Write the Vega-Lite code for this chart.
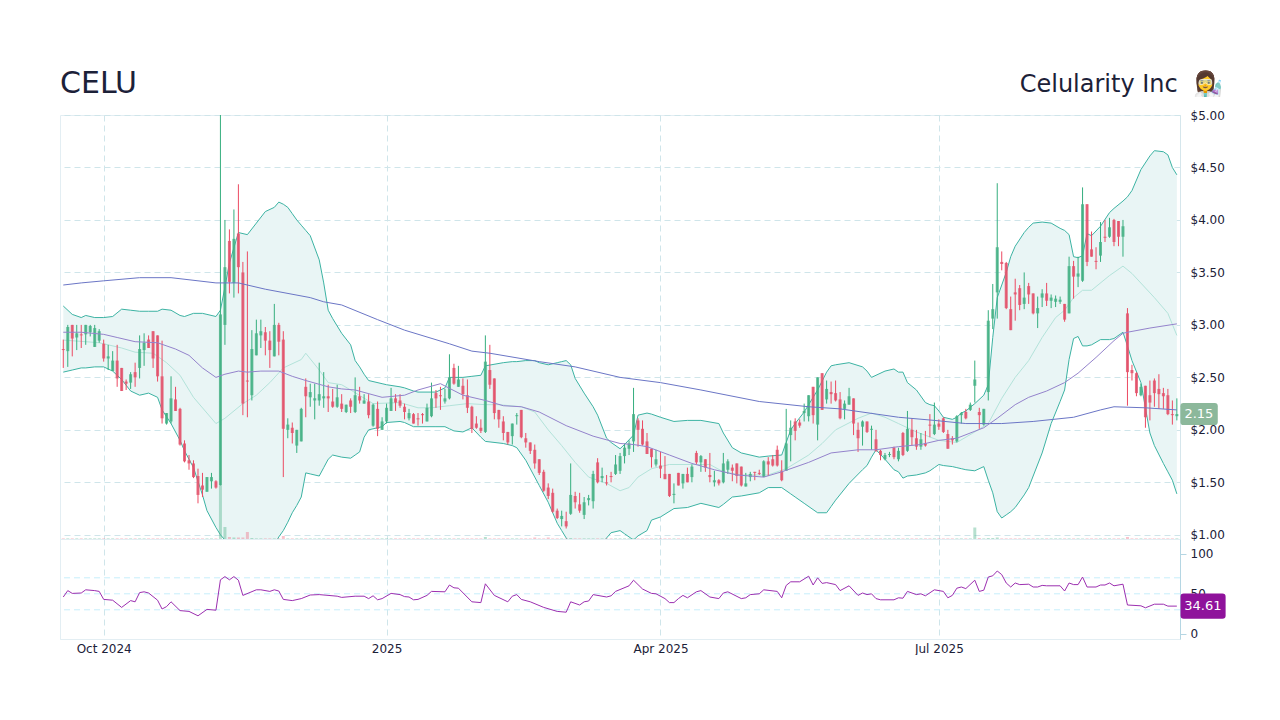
{"$schema":"https://vega.github.io/schema/vega-lite/v6.json","background":"#ffffff","padding":{"left":59,"top":68,"right":0,"bottom":0},"bounds":"flush","config":{"font":"DejaVu Sans","view":{"stroke":"#e3eef3"},"axis":{"labelColor":"#1c2138","labelFontSize":12}},"title":{"text":"CELU","anchor":"start","frame":"group","fontSize":30,"fontWeight":"normal","color":"#1c2138","font":"DejaVu Sans","offset":-26},"spacing":0,"datasets":{"candles":[
{"i":0,"o":2.77,"h":2.86,"l":2.59,"c":2.76,"v":0.6},{"i":1,"o":2.75,"h":3.0,"l":2.6,"c":2.98,"v":0.6},{"i":2,"o":3.0,"h":3.0,"l":2.7,"c":2.87,"v":0.6},{"i":3,"o":2.88,"h":3.0,"l":2.76,"c":2.92,"v":0.6},{"i":4,"o":2.91,"h":3.0,"l":2.78,"c":2.9,"v":0.6},{"i":5,"o":2.91,"h":3.0,"l":2.81,"c":3.0,"v":0.6},{"i":6,"o":2.93,"h":3.0,"l":2.89,"c":2.99,"v":0.6},{"i":7,"o":2.79,"h":3.0,"l":2.79,"c":2.97,"v":0.6},{"i":8,"o":2.85,"h":2.96,"l":2.83,"c":2.94,"v":0.6},{"i":9,"o":2.82,"h":2.86,"l":2.65,"c":2.68,"v":0.6},
{"i":10,"o":2.68,"h":2.81,"l":2.57,"c":2.7,"v":0.6},{"i":11,"o":2.56,"h":2.75,"l":2.56,"c":2.66,"v":0.6},{"i":12,"o":2.66,"h":2.81,"l":2.41,"c":2.49,"v":0.6},{"i":13,"o":2.59,"h":2.59,"l":2.37,"c":2.37,"v":0.6},{"i":14,"o":2.46,"h":2.48,"l":2.38,"c":2.44,"v":0.6},{"i":15,"o":2.45,"h":2.55,"l":2.39,"c":2.53,"v":0.6},{"i":16,"o":2.55,"h":2.64,"l":2.41,"c":2.5,"v":0.6},{"i":17,"o":2.59,"h":2.9,"l":2.49,"c":2.77,"v":0.6},{"i":18,"o":2.76,"h":2.92,"l":2.61,"c":2.83,"v":0.6},{"i":19,"o":2.86,"h":2.9,"l":2.78,"c":2.78,"v":0.6},
{"i":20,"o":2.94,"h":2.94,"l":2.59,"c":2.68,"v":0.6},{"i":21,"o":2.9,"h":2.9,"l":2.46,"c":2.51,"v":0.6},{"i":22,"o":2.51,"h":2.85,"l":2.06,"c":2.11,"v":0.6},{"i":23,"o":2.06,"h":2.16,"l":2.05,"c":2.16,"v":0.6},{"i":24,"o":2.08,"h":2.51,"l":2.06,"c":2.3,"v":0.6},{"i":25,"o":2.29,"h":2.41,"l":2.18,"c":2.18,"v":0.6},{"i":26,"o":2.2,"h":2.21,"l":1.85,"c":1.86,"v":0.6},{"i":27,"o":1.87,"h":1.9,"l":1.69,"c":1.7,"v":0.6},{"i":28,"o":1.71,"h":1.76,"l":1.62,"c":1.68,"v":0.6},{"i":29,"o":1.68,"h":1.71,"l":1.54,"c":1.55,"v":0.6},
{"i":30,"o":1.56,"h":1.63,"l":1.3,"c":1.38,"v":0.6},{"i":31,"o":1.47,"h":1.59,"l":1.36,"c":1.43,"v":0.6},{"i":32,"o":1.41,"h":1.55,"l":1.41,"c":1.55,"v":0.6},{"i":33,"o":1.51,"h":1.59,"l":1.44,"c":1.55,"v":0.6},{"i":34,"o":1.51,"h":1.52,"l":1.44,"c":1.45,"v":0.6},{"i":35,"o":1.47,"h":5.0,"l":1.47,"c":3.1,"v":53},{"i":36,"o":3.0,"h":4.0,"l":2.81,"c":3.55,"v":12},{"i":37,"o":3.8,"h":3.91,"l":3.3,"c":3.41,"v":2},{"i":38,"o":3.4,"h":4.1,"l":3.26,"c":3.82,"v":1.5},{"i":39,"o":3.87,"h":4.34,"l":3.3,"c":3.55,"v":1.5},
{"i":40,"o":3.5,"h":3.6,"l":2.14,"c":2.25,"v":1.5},{"i":41,"o":2.47,"h":3.7,"l":2.12,"c":2.46,"v":7},{"i":42,"o":2.33,"h":2.95,"l":2.28,"c":2.77,"v":1},{"i":43,"o":2.71,"h":3.05,"l":2.71,"c":2.92,"v":0.6},{"i":44,"o":2.9,"h":3.05,"l":2.78,"c":2.94,"v":0.6},{"i":45,"o":2.93,"h":2.98,"l":2.71,"c":2.85,"v":0.6},{"i":46,"o":2.85,"h":2.94,"l":2.59,"c":2.76,"v":0.6},{"i":47,"o":2.7,"h":3.2,"l":2.7,"c":3.0,"v":0.6},{"i":48,"o":3.0,"h":3.02,"l":2.71,"c":2.84,"v":0.6},{"i":49,"o":2.86,"h":2.94,"l":1.55,"c":2.01,"v":3},
{"i":50,"o":2.0,"h":2.11,"l":1.92,"c":2.05,"v":0.6},{"i":51,"o":2.02,"h":2.07,"l":1.87,"c":1.97,"v":0.6},{"i":52,"o":1.85,"h":2.0,"l":1.78,"c":2.0,"v":0.6},{"i":53,"o":1.89,"h":2.21,"l":1.89,"c":2.2,"v":0.6},{"i":54,"o":2.41,"h":2.49,"l":2.12,"c":2.32,"v":0.6},{"i":55,"o":2.31,"h":2.44,"l":2.22,"c":2.36,"v":0.6},{"i":56,"o":2.28,"h":2.44,"l":2.1,"c":2.3,"v":0.6},{"i":57,"o":2.28,"h":2.64,"l":2.23,"c":2.34,"v":0.6},{"i":58,"o":2.3,"h":2.55,"l":2.21,"c":2.32,"v":0.6},{"i":59,"o":2.32,"h":2.43,"l":2.17,"c":2.3,"v":0.6},
{"i":60,"o":2.27,"h":2.39,"l":2.21,"c":2.22,"v":0.6},{"i":61,"o":2.22,"h":2.43,"l":2.21,"c":2.31,"v":0.6},{"i":62,"o":2.25,"h":2.34,"l":2.17,"c":2.2,"v":0.6},{"i":63,"o":2.17,"h":2.24,"l":2.16,"c":2.24,"v":0.6},{"i":64,"o":2.28,"h":2.3,"l":2.16,"c":2.22,"v":0.6},{"i":65,"o":2.17,"h":2.5,"l":2.16,"c":2.33,"v":0.6},{"i":66,"o":2.32,"h":2.41,"l":2.25,"c":2.28,"v":0.6},{"i":67,"o":2.25,"h":2.34,"l":2.25,"c":2.28,"v":0.6},{"i":68,"o":2.27,"h":2.34,"l":2.11,"c":2.14,"v":0.6},{"i":69,"o":2.04,"h":2.25,"l":2.03,"c":2.24,"v":0.6},
{"i":70,"o":2.2,"h":2.27,"l":1.94,"c":2.01,"v":0.6},{"i":71,"o":2.0,"h":2.12,"l":2.0,"c":2.08,"v":0.6},{"i":72,"o":2.08,"h":2.25,"l":2.06,"c":2.21,"v":0.6},{"i":73,"o":2.18,"h":2.4,"l":2.18,"c":2.3,"v":0.6},{"i":74,"o":2.3,"h":2.34,"l":2.18,"c":2.26,"v":0.6},{"i":75,"o":2.28,"h":2.34,"l":2.21,"c":2.23,"v":0.6},{"i":76,"o":2.22,"h":2.25,"l":2.1,"c":2.17,"v":0.6},{"i":77,"o":2.11,"h":2.2,"l":2.09,"c":2.16,"v":0.6},{"i":78,"o":2.15,"h":2.16,"l":2.06,"c":2.06,"v":0.6},{"i":79,"o":2.11,"h":2.16,"l":2.04,"c":2.1,"v":0.6},
{"i":80,"o":2.15,"h":2.16,"l":2.06,"c":2.14,"v":0.6},{"i":81,"o":2.08,"h":2.25,"l":2.08,"c":2.21,"v":0.6},{"i":82,"o":2.13,"h":2.45,"l":2.12,"c":2.3,"v":0.6},{"i":83,"o":2.35,"h":2.38,"l":2.21,"c":2.3,"v":0.6},{"i":84,"o":2.33,"h":2.41,"l":2.19,"c":2.32,"v":0.6},{"i":85,"o":2.27,"h":2.39,"l":2.25,"c":2.3,"v":0.6},{"i":86,"o":2.3,"h":2.72,"l":2.29,"c":2.5,"v":0.6},{"i":87,"o":2.59,"h":2.63,"l":2.43,"c":2.44,"v":0.6},{"i":88,"o":2.41,"h":2.61,"l":2.41,"c":2.48,"v":0.6},{"i":89,"o":2.42,"h":2.49,"l":2.29,"c":2.34,"v":0.6},
{"i":90,"o":2.33,"h":2.48,"l":2.16,"c":2.21,"v":0.6},{"i":91,"o":2.22,"h":2.23,"l":1.97,"c":2.01,"v":0.6},{"i":92,"o":2.06,"h":2.13,"l":2.01,"c":2.02,"v":0.6},{"i":93,"o":2.02,"h":2.1,"l":1.97,"c":1.99,"v":0.6},{"i":94,"o":1.98,"h":2.9,"l":1.97,"c":2.65,"v":2},{"i":95,"o":2.57,"h":2.81,"l":2.39,"c":2.43,"v":0.6},{"i":96,"o":2.49,"h":2.49,"l":2.1,"c":2.16,"v":0.6},{"i":97,"o":2.19,"h":2.19,"l":2.02,"c":2.1,"v":0.6},{"i":98,"o":2.08,"h":2.13,"l":1.9,"c":1.97,"v":0.6},{"i":99,"o":1.98,"h":1.98,"l":1.86,"c":1.88,"v":0.6},
{"i":100,"o":1.94,"h":2.06,"l":1.86,"c":2.06,"v":0.6},{"i":101,"o":2.13,"h":2.16,"l":2.05,"c":2.14,"v":0.6},{"i":102,"o":2.19,"h":2.19,"l":1.92,"c":1.93,"v":0.6},{"i":103,"o":1.92,"h":1.97,"l":1.83,"c":1.88,"v":0.6},{"i":104,"o":1.88,"h":1.88,"l":1.77,"c":1.8,"v":0.6},{"i":105,"o":1.81,"h":1.86,"l":1.63,"c":1.68,"v":1.5},{"i":106,"o":1.72,"h":1.72,"l":1.57,"c":1.59,"v":0.6},{"i":107,"o":1.6,"h":1.62,"l":1.41,"c":1.42,"v":0.6},{"i":108,"o":1.45,"h":1.49,"l":1.34,"c":1.37,"v":1.5},{"i":109,"o":1.4,"h":1.44,"l":1.21,"c":1.22,"v":0.6},
{"i":110,"o":1.23,"h":1.25,"l":1.15,"c":1.16,"v":0.6},{"i":111,"o":1.15,"h":1.23,"l":1.08,"c":1.18,"v":0.6},{"i":112,"o":1.13,"h":1.22,"l":1.06,"c":1.08,"v":0.6},{"i":113,"o":1.2,"h":1.68,"l":1.19,"c":1.38,"v":1},{"i":114,"o":1.37,"h":1.41,"l":1.25,"c":1.31,"v":0.6},{"i":115,"o":1.29,"h":1.4,"l":1.21,"c":1.23,"v":0.6},{"i":116,"o":1.19,"h":1.36,"l":1.15,"c":1.31,"v":0.6},{"i":117,"o":1.33,"h":1.38,"l":1.28,"c":1.35,"v":0.6},{"i":118,"o":1.32,"h":1.61,"l":1.25,"c":1.58,"v":0.6},{"i":119,"o":1.69,"h":1.73,"l":1.49,"c":1.5,"v":0.6},
{"i":120,"o":1.54,"h":1.64,"l":1.5,"c":1.56,"v":0.6},{"i":121,"o":1.5,"h":1.57,"l":1.47,"c":1.49,"v":0.6},{"i":122,"o":1.56,"h":1.6,"l":1.5,"c":1.55,"v":0.6},{"i":123,"o":1.58,"h":1.76,"l":1.57,"c":1.67,"v":0.6},{"i":124,"o":1.61,"h":1.78,"l":1.58,"c":1.75,"v":0.6},{"i":125,"o":1.75,"h":1.87,"l":1.68,"c":1.83,"v":0.6},{"i":126,"o":1.82,"h":1.9,"l":1.76,"c":1.87,"v":0.6},{"i":127,"o":1.89,"h":2.4,"l":1.79,"c":2.15,"v":0.6},{"i":128,"o":2.09,"h":2.11,"l":1.84,"c":2.0,"v":0.6},{"i":129,"o":2.01,"h":2.09,"l":1.85,"c":1.86,"v":0.6},
{"i":130,"o":1.89,"h":1.97,"l":1.77,"c":1.77,"v":0.6},{"i":131,"o":1.82,"h":1.82,"l":1.64,"c":1.74,"v":0.6},{"i":132,"o":1.67,"h":1.81,"l":1.65,"c":1.72,"v":0.6},{"i":133,"o":1.66,"h":1.79,"l":1.54,"c":1.63,"v":0.6},{"i":134,"o":1.58,"h":1.75,"l":1.53,"c":1.53,"v":0.6},{"i":135,"o":1.58,"h":1.58,"l":1.36,"c":1.37,"v":0.6},{"i":136,"o":1.38,"h":1.49,"l":1.3,"c":1.39,"v":0.6},{"i":137,"o":1.59,"h":1.59,"l":1.47,"c":1.47,"v":0.6},{"i":138,"o":1.49,"h":1.58,"l":1.44,"c":1.58,"v":0.6},{"i":139,"o":1.58,"h":1.64,"l":1.5,"c":1.5,"v":0.6},
{"i":140,"o":1.55,"h":1.67,"l":1.5,"c":1.65,"v":0.6},{"i":141,"o":1.78,"h":1.8,"l":1.67,"c":1.69,"v":0.6},{"i":142,"o":1.69,"h":1.76,"l":1.6,"c":1.75,"v":0.6},{"i":143,"o":1.72,"h":1.72,"l":1.6,"c":1.64,"v":0.6},{"i":144,"o":1.57,"h":1.78,"l":1.5,"c":1.55,"v":0.6},{"i":145,"o":1.5,"h":1.61,"l":1.46,"c":1.52,"v":0.6},{"i":146,"o":1.52,"h":1.53,"l":1.47,"c":1.49,"v":0.6},{"i":147,"o":1.5,"h":1.78,"l":1.49,"c":1.68,"v":0.6},{"i":148,"o":1.62,"h":1.72,"l":1.58,"c":1.7,"v":0.6},{"i":149,"o":1.64,"h":1.67,"l":1.51,"c":1.61,"v":0.6},
{"i":150,"o":1.68,"h":1.68,"l":1.49,"c":1.56,"v":0.6},{"i":151,"o":1.65,"h":1.65,"l":1.46,"c":1.47,"v":0.6},{"i":152,"o":1.46,"h":1.59,"l":1.46,"c":1.49,"v":0.6},{"i":153,"o":1.55,"h":1.6,"l":1.51,"c":1.58,"v":0.6},{"i":154,"o":1.6,"h":1.6,"l":1.52,"c":1.59,"v":0.6},{"i":155,"o":1.59,"h":1.62,"l":1.57,"c":1.58,"v":0.6},{"i":156,"o":1.55,"h":1.71,"l":1.55,"c":1.7,"v":0.6},{"i":157,"o":1.7,"h":1.74,"l":1.56,"c":1.67,"v":0.6},{"i":158,"o":1.72,"h":1.76,"l":1.65,"c":1.66,"v":0.6},{"i":159,"o":1.81,"h":1.85,"l":1.65,"c":1.66,"v":0.6},
{"i":160,"o":1.61,"h":1.71,"l":1.51,"c":1.52,"v":0.6},{"i":161,"o":1.61,"h":2.2,"l":1.61,"c":1.87,"v":0.6},{"i":162,"o":1.95,"h":2.09,"l":1.7,"c":2.02,"v":0.6},{"i":163,"o":2.08,"h":2.11,"l":1.9,"c":1.99,"v":0.6},{"i":164,"o":2.07,"h":2.1,"l":2.02,"c":2.04,"v":0.6},{"i":165,"o":2.16,"h":2.25,"l":2.08,"c":2.18,"v":0.6},{"i":166,"o":2.13,"h":2.33,"l":2.08,"c":2.33,"v":0.6},{"i":167,"o":2.41,"h":2.41,"l":2.06,"c":2.14,"v":0.6},{"i":168,"o":2.05,"h":2.5,"l":1.9,"c":2.5,"v":0.6},{"i":169,"o":2.54,"h":2.54,"l":2.19,"c":2.19,"v":0.6},
{"i":170,"o":2.29,"h":2.47,"l":2.25,"c":2.39,"v":0.6},{"i":171,"o":2.36,"h":2.46,"l":2.25,"c":2.34,"v":0.6},{"i":172,"o":2.35,"h":2.47,"l":2.27,"c":2.28,"v":0.6},{"i":173,"o":2.29,"h":2.36,"l":2.1,"c":2.11,"v":0.6},{"i":174,"o":2.2,"h":2.28,"l":2.1,"c":2.25,"v":0.6},{"i":175,"o":2.24,"h":2.4,"l":2.24,"c":2.32,"v":0.6},{"i":176,"o":2.3,"h":2.3,"l":1.95,"c":2.06,"v":0.6},{"i":177,"o":2.0,"h":2.07,"l":1.79,"c":1.92,"v":0.6},{"i":178,"o":2.03,"h":2.09,"l":1.85,"c":2.08,"v":0.6},{"i":179,"o":2.08,"h":2.08,"l":1.97,"c":1.98,"v":0.6},
{"i":180,"o":2.0,"h":2.04,"l":1.81,"c":2.01,"v":0.6},{"i":181,"o":1.91,"h":2.0,"l":1.79,"c":1.8,"v":0.6},{"i":182,"o":1.8,"h":1.81,"l":1.71,"c":1.76,"v":0.6},{"i":183,"o":1.72,"h":1.78,"l":1.71,"c":1.76,"v":0.6},{"i":184,"o":1.76,"h":1.79,"l":1.74,"c":1.77,"v":0.6},{"i":185,"o":1.83,"h":1.84,"l":1.72,"c":1.74,"v":0.6},{"i":186,"o":1.72,"h":1.83,"l":1.7,"c":1.8,"v":0.6},{"i":187,"o":1.97,"h":1.98,"l":1.75,"c":1.76,"v":0.6},{"i":188,"o":1.8,"h":2.18,"l":1.79,"c":2.01,"v":0.6},{"i":189,"o":2.0,"h":2.11,"l":1.85,"c":1.93,"v":0.6},
{"i":190,"o":1.92,"h":2.0,"l":1.81,"c":1.84,"v":0.6},{"i":191,"o":1.84,"h":1.97,"l":1.81,"c":1.91,"v":0.6},{"i":192,"o":1.87,"h":1.99,"l":1.84,"c":1.85,"v":0.6},{"i":193,"o":2.05,"h":2.15,"l":1.93,"c":2.04,"v":0.6},{"i":194,"o":1.96,"h":2.26,"l":1.95,"c":2.05,"v":0.6},{"i":195,"o":2.06,"h":2.1,"l":2.0,"c":2.03,"v":0.6},{"i":196,"o":2.11,"h":2.12,"l":1.97,"c":1.98,"v":0.6},{"i":197,"o":1.96,"h":2.0,"l":1.82,"c":1.82,"v":0.6},{"i":198,"o":1.92,"h":1.94,"l":1.86,"c":1.9,"v":0.6},{"i":199,"o":1.89,"h":2.14,"l":1.88,"c":2.13,"v":0.6},
{"i":200,"o":2.14,"h":2.17,"l":2.06,"c":2.16,"v":0.6},{"i":201,"o":2.17,"h":2.2,"l":2.1,"c":2.11,"v":0.6},{"i":202,"o":2.19,"h":2.26,"l":2.18,"c":2.24,"v":0.6},{"i":203,"o":2.42,"h":2.66,"l":2.26,"c":2.48,"v":11.5},{"i":204,"o":2.17,"h":2.21,"l":2.01,"c":2.14,"v":1},{"i":205,"o":2.05,"h":2.2,"l":2.04,"c":2.2,"v":0.6},{"i":206,"o":2.36,"h":3.14,"l":2.28,"c":3.04,"v":1},{"i":207,"o":3.06,"h":3.39,"l":2.96,"c":3.15,"v":1},{"i":208,"o":3.31,"h":4.35,"l":3.06,"c":3.74,"v":1.5},{"i":209,"o":3.6,"h":3.7,"l":3.52,"c":3.58,"v":0.6},
{"i":210,"o":3.59,"h":3.6,"l":3.15,"c":3.16,"v":0.6},{"i":211,"o":3.15,"h":3.27,"l":2.95,"c":2.95,"v":0.6},{"i":212,"o":3.31,"h":3.44,"l":3.04,"c":3.29,"v":0.6},{"i":213,"o":3.35,"h":3.38,"l":3.14,"c":3.19,"v":0.6},{"i":214,"o":3.2,"h":3.5,"l":3.15,"c":3.26,"v":0.6},{"i":215,"o":3.37,"h":3.4,"l":3.2,"c":3.29,"v":0.6},{"i":216,"o":3.3,"h":3.3,"l":3.1,"c":3.11,"v":0.6},{"i":217,"o":3.11,"h":3.27,"l":2.97,"c":3.16,"v":0.6},{"i":218,"o":3.26,"h":3.34,"l":3.17,"c":3.3,"v":0.6},{"i":219,"o":3.3,"h":3.4,"l":3.18,"c":3.23,"v":0.6},
{"i":220,"o":3.23,"h":3.29,"l":3.16,"c":3.26,"v":0.6},{"i":221,"o":3.22,"h":3.28,"l":3.17,"c":3.25,"v":0.6},{"i":222,"o":3.22,"h":3.27,"l":3.2,"c":3.24,"v":0.6},{"i":223,"o":3.2,"h":3.2,"l":3.03,"c":3.05,"v":0.6},{"i":224,"o":3.11,"h":3.65,"l":3.11,"c":3.56,"v":0.6},{"i":225,"o":3.56,"h":3.61,"l":3.25,"c":3.46,"v":0.6},{"i":226,"o":3.46,"h":3.65,"l":3.36,"c":3.49,"v":0.6},{"i":227,"o":3.42,"h":4.31,"l":3.41,"c":4.15,"v":0.6},{"i":228,"o":4.15,"h":4.15,"l":3.56,"c":3.6,"v":0.6},{"i":229,"o":3.72,"h":3.89,"l":3.65,"c":3.65,"v":0.6},
{"i":230,"o":3.61,"h":3.74,"l":3.53,"c":3.6,"v":0.6},{"i":231,"o":3.66,"h":3.98,"l":3.6,"c":3.79,"v":0.6},{"i":232,"o":3.84,"h":4.0,"l":3.79,"c":3.83,"v":0.6},{"i":233,"o":3.84,"h":4.02,"l":3.83,"c":3.93,"v":0.6},{"i":234,"o":4.0,"h":4.01,"l":3.75,"c":3.79,"v":0.6},{"i":235,"o":3.99,"h":3.99,"l":3.75,"c":3.84,"v":0.6},{"i":236,"o":3.84,"h":4.0,"l":3.65,"c":3.94,"v":0.6},{"i":237,"o":3.11,"h":3.16,"l":2.23,"c":2.55,"v":2},{"i":238,"o":2.57,"h":2.62,"l":2.47,"c":2.54,"v":0.6},{"i":239,"o":2.54,"h":2.55,"l":2.32,"c":2.35,"v":0.6},
{"i":240,"o":2.33,"h":2.44,"l":2.32,"c":2.41,"v":0.6},{"i":241,"o":2.42,"h":2.42,"l":2.02,"c":2.12,"v":0.6},{"i":242,"o":2.33,"h":2.47,"l":2.09,"c":2.26,"v":0.6},{"i":243,"o":2.47,"h":2.49,"l":2.22,"c":2.35,"v":0.6},{"i":244,"o":2.39,"h":2.53,"l":2.2,"c":2.34,"v":0.6},{"i":245,"o":2.35,"h":2.4,"l":2.2,"c":2.32,"v":0.6},{"i":246,"o":2.33,"h":2.39,"l":2.14,"c":2.15,"v":0.6},{"i":247,"o":2.15,"h":2.28,"l":2.05,"c":2.14,"v":0.6},{"i":248,"o":2.13,"h":2.3,"l":2.09,"c":2.15,"v":0.6}
],"bands":[
{"i":0,"u":3.18,"l":2.55},{"i":2,"u":3.1,"l":2.57},{"i":4,"u":3.07,"l":2.59},{"i":5,"u":3.09,"l":2.59},{"i":7,"u":3.07,"l":2.6},{"i":9,"u":3.07,"l":2.6},{"i":11,"u":3.08,"l":2.56},{"i":13,"u":3.15,"l":2.48},{"i":15,"u":3.14,"l":2.37},{"i":17,"u":3.13,"l":2.33},{"i":19,"u":3.13,"l":2.35},{"i":21,"u":3.13,"l":2.31},{"i":22,"u":3.15,"l":2.19},{"i":24,"u":3.14,"l":2.06},{"i":26,"u":3.09,"l":1.9},{"i":27,"u":3.08,"l":1.8},{"i":29,"u":3.11,"l":1.64},{"i":31,"u":3.11,"l":1.38},{"i":32,"u":3.1,"l":1.23},{"i":34,"u":3.08,"l":1.07},{"i":35,"u":3.14,"l":1.0},{"i":36,"u":3.36,"l":0.95},{"i":37,"u":3.59,"l":0.92},{"i":39,"u":3.88,"l":0.84},{"i":41,"u":3.86,"l":0.8},{"i":43,"u":3.97,"l":0.8},{"i":45,"u":4.08,"l":0.82},{"i":47,"u":4.12,"l":0.9},{"i":48,"u":4.17,"l":0.98},{"i":49,"u":4.15,"l":1.04},{"i":50,"u":4.12,"l":1.12},{"i":51,"u":4.06,"l":1.21},{"i":52,"u":4.0,"l":1.28},{"i":53,"u":3.95,"l":1.36},{"i":54,"u":3.9,"l":1.59},{"i":55,"u":3.85,"l":1.58},{"i":57,"u":3.62,"l":1.56},{"i":58,"u":3.4,"l":1.64},{"i":59,"u":3.14,"l":1.72},{"i":60,"u":3.06,"l":1.76},{"i":62,"u":2.92,"l":1.74},{"i":64,"u":2.81,"l":1.73},{"i":65,"u":2.66,"l":1.76},{"i":66,"u":2.6,"l":1.79},{"i":67,"u":2.53,"l":1.93},{"i":68,"u":2.47,"l":2.0},{"i":71,"u":2.44,"l":2.03},{"i":72,"u":2.43,"l":2.07},{"i":75,"u":2.41,"l":2.08},{"i":76,"u":2.4,"l":2.07},{"i":78,"u":2.37,"l":2.03},{"i":79,"u":2.36,"l":2.03},{"i":83,"u":2.36,"l":2.03},{"i":85,"u":2.4,"l":2.03},{"i":86,"u":2.5,"l":2.01},{"i":87,"u":2.5,"l":1.99},{"i":89,"u":2.5,"l":1.98},{"i":91,"u":2.51,"l":2.02},{"i":93,"u":2.52,"l":1.93},{"i":94,"u":2.61,"l":1.89},{"i":98,"u":2.64,"l":1.87},{"i":100,"u":2.65,"l":1.85},{"i":101,"u":2.65,"l":1.83},{"i":103,"u":2.66,"l":1.71},{"i":105,"u":2.66,"l":1.55},{"i":106,"u":2.64,"l":1.47},{"i":108,"u":2.62,"l":1.31},{"i":110,"u":2.64,"l":1.11},{"i":111,"u":2.65,"l":1.04},{"i":112,"u":2.66,"l":0.97},{"i":113,"u":2.62,"l":0.92},{"i":114,"u":2.49,"l":0.88},{"i":116,"u":2.35,"l":0.82},{"i":118,"u":2.22,"l":0.82},{"i":119,"u":2.14,"l":0.85},{"i":121,"u":1.92,"l":0.97},{"i":122,"u":1.88,"l":1.02},{"i":124,"u":1.82,"l":1.04},{"i":125,"u":1.86,"l":1.01},{"i":127,"u":1.95,"l":0.95},{"i":128,"u":2.14,"l":0.99},{"i":130,"u":2.16,"l":1.04},{"i":131,"u":2.15,"l":1.14},{"i":133,"u":2.12,"l":1.17},{"i":136,"u":2.08,"l":1.25},{"i":139,"u":2.09,"l":1.26},{"i":142,"u":2.09,"l":1.3},{"i":146,"u":2.06,"l":1.26},{"i":147,"u":1.97,"l":1.29},{"i":149,"u":1.83,"l":1.36},{"i":151,"u":1.78,"l":1.37},{"i":155,"u":1.74,"l":1.4},{"i":157,"u":1.75,"l":1.45},{"i":160,"u":1.76,"l":1.45},{"i":162,"u":2.0,"l":1.39},{"i":163,"u":2.06,"l":1.36},{"i":165,"u":2.17,"l":1.3},{"i":168,"u":2.38,"l":1.21},{"i":170,"u":2.55,"l":1.21},{"i":171,"u":2.61,"l":1.27},{"i":172,"u":2.62,"l":1.33},{"i":175,"u":2.64,"l":1.49},{"i":178,"u":2.6,"l":1.62},{"i":179,"u":2.56,"l":1.66},{"i":180,"u":2.5,"l":1.74},{"i":181,"u":2.52,"l":1.81},{"i":183,"u":2.56,"l":1.72},{"i":185,"u":2.58,"l":1.62},{"i":186,"u":2.55,"l":1.6},{"i":187,"u":2.55,"l":1.54},{"i":188,"u":2.45,"l":1.56},{"i":190,"u":2.38,"l":1.57},{"i":192,"u":2.26,"l":1.59},{"i":193,"u":2.24,"l":1.61},{"i":194,"u":2.23,"l":1.64},{"i":195,"u":2.18,"l":1.67},{"i":196,"u":2.12,"l":1.66},{"i":198,"u":2.1,"l":1.65},{"i":199,"u":2.12,"l":1.64},{"i":200,"u":2.16,"l":1.63},{"i":201,"u":2.18,"l":1.62},{"i":203,"u":2.25,"l":1.61},{"i":205,"u":2.33,"l":1.65},{"i":206,"u":2.43,"l":1.52},{"i":207,"u":2.88,"l":1.4},{"i":208,"u":3.26,"l":1.22},{"i":209,"u":3.38,"l":1.16},{"i":210,"u":3.5,"l":1.19},{"i":211,"u":3.65,"l":1.22},{"i":212,"u":3.75,"l":1.26},{"i":214,"u":3.88,"l":1.38},{"i":215,"u":3.93,"l":1.45},{"i":216,"u":3.97,"l":1.56},{"i":218,"u":3.98,"l":1.78},{"i":220,"u":3.97,"l":2.06},{"i":222,"u":3.92,"l":2.27},{"i":223,"u":3.9,"l":2.38},{"i":224,"u":3.86,"l":2.67},{"i":225,"u":3.65,"l":2.87},{"i":226,"u":3.64,"l":2.89},{"i":227,"u":3.66,"l":2.8},{"i":228,"u":3.87,"l":2.8},{"i":229,"u":3.85,"l":2.81},{"i":231,"u":3.94,"l":2.86},{"i":233,"u":4.07,"l":2.86},{"i":234,"u":4.11,"l":2.87},{"i":236,"u":4.18,"l":2.93},{"i":237,"u":4.22,"l":2.8},{"i":238,"u":4.28,"l":2.66},{"i":240,"u":4.48,"l":2.45},{"i":242,"u":4.61,"l":1.97},{"i":243,"u":4.66,"l":1.85},{"i":245,"u":4.65,"l":1.68},{"i":246,"u":4.62,"l":1.6},{"i":247,"u":4.5,"l":1.52},{"i":248,"u":4.43,"l":1.39}
],"mid":[
{"i":0,"p":2.855},{"i":5,"p":2.84},{"i":8,"p":2.83},{"i":13,"p":2.78},{"i":16,"p":2.74},{"i":20,"p":2.73},{"i":23,"p":2.64},{"i":26,"p":2.52},{"i":29,"p":2.31},{"i":34,"p":2.06},{"i":36,"p":2.11},{"i":40,"p":2.25},{"i":43,"p":2.33},{"i":46,"p":2.45},{"i":49,"p":2.59},{"i":53,"p":2.67},{"i":54,"p":2.73},{"i":57,"p":2.57},{"i":59,"p":2.45},{"i":62,"p":2.43},{"i":64,"p":2.38},{"i":69,"p":2.25},{"i":75,"p":2.26},{"i":79,"p":2.21},{"i":82,"p":2.21},{"i":86,"p":2.23},{"i":90,"p":2.25},{"i":94,"p":2.24},{"i":97,"p":2.24},{"i":102,"p":2.22},{"i":105,"p":2.17},{"i":108,"p":2.0},{"i":111,"p":1.85},{"i":114,"p":1.69},{"i":117,"p":1.55},{"i":121,"p":1.49},{"i":124,"p":1.42},{"i":126,"p":1.45},{"i":128,"p":1.55},{"i":131,"p":1.63},{"i":135,"p":1.67},{"i":141,"p":1.67},{"i":144,"p":1.67},{"i":147,"p":1.6},{"i":151,"p":1.57},{"i":157,"p":1.57},{"i":161,"p":1.63},{"i":166,"p":1.76},{"i":169,"p":1.87},{"i":172,"p":2.0},{"i":177,"p":2.11},{"i":180,"p":2.16},{"i":183,"p":2.12},{"i":186,"p":2.06},{"i":190,"p":1.98},{"i":195,"p":1.9},{"i":199,"p":1.88},{"i":203,"p":1.98},{"i":206,"p":2.06},{"i":209,"p":2.3},{"i":212,"p":2.5},{"i":215,"p":2.66},{"i":218,"p":2.88},{"i":221,"p":3.07},{"i":223,"p":3.14},{"i":225,"p":3.26},{"i":227,"p":3.33},{"i":229,"p":3.33},{"i":233,"p":3.47},{"i":236,"p":3.56},{"i":238,"p":3.49},{"i":243,"p":3.26},{"i":246,"p":3.11},{"i":248,"p":2.9}
],"smaShort":[
{"i":0,"p":2.93},{"i":4,"p":2.93},{"i":9,"p":2.91},{"i":12,"p":2.88},{"i":16,"p":2.84},{"i":21,"p":2.83},{"i":25,"p":2.77},{"i":28,"p":2.71},{"i":31,"p":2.59},{"i":34,"p":2.5},{"i":36,"p":2.53},{"i":39,"p":2.56},{"i":41,"p":2.55},{"i":44,"p":2.56},{"i":48,"p":2.56},{"i":51,"p":2.51},{"i":54,"p":2.47},{"i":59,"p":2.41},{"i":62,"p":2.39},{"i":65,"p":2.38},{"i":71,"p":2.31},{"i":76,"p":2.33},{"i":79,"p":2.38},{"i":84,"p":2.44},{"i":89,"p":2.33},{"i":94,"p":2.28},{"i":98,"p":2.23},{"i":102,"p":2.22},{"i":106,"p":2.17},{"i":112,"p":2.04},{"i":118,"p":1.94},{"i":124,"p":1.87},{"i":127,"p":1.86},{"i":130,"p":1.84},{"i":135,"p":1.76},{"i":140,"p":1.68},{"i":145,"p":1.62},{"i":150,"p":1.57},{"i":156,"p":1.55},{"i":160,"p":1.6},{"i":166,"p":1.69},{"i":171,"p":1.78},{"i":177,"p":1.81},{"i":181,"p":1.81},{"i":186,"p":1.84},{"i":191,"p":1.86},{"i":195,"p":1.9},{"i":199,"p":1.92},{"i":205,"p":2.02},{"i":208,"p":2.11},{"i":212,"p":2.24},{"i":215,"p":2.31},{"i":219,"p":2.37},{"i":223,"p":2.45},{"i":226,"p":2.54},{"i":230,"p":2.69},{"i":234,"p":2.85},{"i":236,"p":2.92},{"i":237,"p":2.93},{"i":242,"p":2.97},{"i":248,"p":3.01}
],"smaLong":[
{"i":0,"p":3.38},{"i":4,"p":3.4},{"i":9,"p":3.42},{"i":17,"p":3.45},{"i":24,"p":3.45},{"i":30,"p":3.42},{"i":34,"p":3.4},{"i":39,"p":3.4},{"i":45,"p":3.34},{"i":55,"p":3.26},{"i":58,"p":3.22},{"i":62,"p":3.19},{"i":70,"p":3.05},{"i":76,"p":2.95},{"i":86,"p":2.82},{"i":91,"p":2.75},{"i":95,"p":2.73},{"i":106,"p":2.65},{"i":114,"p":2.6},{"i":124,"p":2.5},{"i":133,"p":2.45},{"i":142,"p":2.38},{"i":155,"p":2.27},{"i":166,"p":2.22},{"i":173,"p":2.2},{"i":186,"p":2.12},{"i":194,"p":2.09},{"i":201,"p":2.06},{"i":209,"p":2.06},{"i":216,"p":2.08},{"i":225,"p":2.12},{"i":231,"p":2.19},{"i":234,"p":2.22},{"i":241,"p":2.21},{"i":248,"p":2.19}
],"rsi":[
{"i":0,"r":46},{"i":1,"r":54},{"i":2,"r":50.5},{"i":4,"r":51},{"i":5,"r":55},{"i":7,"r":54},{"i":8,"r":53},{"i":9,"r":43},{"i":11,"r":42},{"i":13,"r":33},{"i":15,"r":41.5},{"i":16,"r":40},{"i":17,"r":51.5},{"i":18,"r":52.5},{"i":19,"r":51},{"i":21,"r":42},{"i":22,"r":31},{"i":23,"r":34},{"i":24,"r":40},{"i":26,"r":29},{"i":28,"r":28},{"i":30,"r":22.5},{"i":32,"r":30.5},{"i":34,"r":29.5},{"i":35,"r":67.5},{"i":36,"r":71.5},{"i":37,"r":67.5},{"i":38,"r":71.5},{"i":39,"r":67},{"i":40,"r":48},{"i":43,"r":55},{"i":44,"r":55},{"i":46,"r":53},{"i":47,"r":55},{"i":48,"r":53.5},{"i":49,"r":43},{"i":51,"r":41.5},{"i":53,"r":44},{"i":55,"r":48.5},{"i":57,"r":49},{"i":61,"r":47},{"i":62,"r":45.5},{"i":65,"r":47},{"i":67,"r":47},{"i":68,"r":44},{"i":69,"r":47.5},{"i":70,"r":42.5},{"i":71,"r":44},{"i":73,"r":50.5},{"i":75,"r":49},{"i":76,"r":46.5},{"i":77,"r":46},{"i":78,"r":42.5},{"i":79,"r":43},{"i":81,"r":48},{"i":82,"r":53},{"i":85,"r":52.5},{"i":86,"r":61},{"i":87,"r":57.5},{"i":88,"r":57},{"i":91,"r":40},{"i":93,"r":39},{"i":94,"r":62.5},{"i":96,"r":48},{"i":99,"r":40},{"i":100,"r":47},{"i":101,"r":49},{"i":102,"r":43},{"i":104,"r":40},{"i":107,"r":33},{"i":110,"r":28},{"i":112,"r":27},{"i":113,"r":40},{"i":115,"r":36},{"i":116,"r":40},{"i":117,"r":41},{"i":118,"r":49},{"i":121,"r":46},{"i":122,"r":47.5},{"i":123,"r":53},{"i":126,"r":60},{"i":127,"r":67},{"i":129,"r":56},{"i":131,"r":50.5},{"i":132,"r":50},{"i":134,"r":44},{"i":135,"r":39},{"i":136,"r":39},{"i":137,"r":44},{"i":138,"r":48},{"i":139,"r":45},{"i":141,"r":52.5},{"i":142,"r":54},{"i":144,"r":46},{"i":146,"r":44},{"i":147,"r":51},{"i":148,"r":52.5},{"i":151,"r":44},{"i":152,"r":45},{"i":153,"r":49},{"i":155,"r":50},{"i":156,"r":55},{"i":159,"r":53},{"i":160,"r":45},{"i":161,"r":60.5},{"i":162,"r":65},{"i":164,"r":65},{"i":166,"r":72},{"i":167,"r":61},{"i":168,"r":70},{"i":169,"r":63},{"i":170,"r":64},{"i":172,"r":61.5},{"i":173,"r":54},{"i":175,"r":60},{"i":177,"r":48},{"i":178,"r":51},{"i":179,"r":49},{"i":180,"r":50},{"i":181,"r":44},{"i":182,"r":42.5},{"i":185,"r":42.5},{"i":186,"r":45},{"i":187,"r":44.5},{"i":188,"r":53},{"i":190,"r":49},{"i":191,"r":50},{"i":192,"r":47.5},{"i":194,"r":55},{"i":196,"r":53},{"i":197,"r":45},{"i":198,"r":48},{"i":199,"r":57},{"i":200,"r":58.5},{"i":201,"r":56.5},{"i":203,"r":67},{"i":204,"r":53},{"i":205,"r":54.5},{"i":206,"r":71},{"i":207,"r":72.5},{"i":208,"r":78.5},{"i":209,"r":74},{"i":210,"r":63.5},{"i":211,"r":58.5},{"i":212,"r":63.5},{"i":213,"r":61.5},{"i":215,"r":62},{"i":216,"r":58.5},{"i":217,"r":58.5},{"i":218,"r":60.5},{"i":219,"r":60},{"i":222,"r":60},{"i":223,"r":53.5},{"i":224,"r":63.5},{"i":225,"r":61.5},{"i":226,"r":61.5},{"i":227,"r":71},{"i":228,"r":58.5},{"i":230,"r":58.5},{"i":231,"r":61},{"i":232,"r":61},{"i":233,"r":63.5},{"i":234,"r":60},{"i":236,"r":62},{"i":237,"r":36},{"i":240,"r":35},{"i":241,"r":32.5},{"i":243,"r":37},{"i":245,"r":37},{"i":246,"r":34.61},{"i":248,"r":34.61}
],"rsiLevels":[{"lvl":30},{"lvl":50},{"lvl":70}],"lastPrice":[{"i":248,"p":2.15,"label":"2.15"}],"lastRsi":[{"i":248,"r":34.61,"label":"34.61"}]},
"vconcat":[
{"width":1120,"height":424,"title":{"text":"Celularity Inc\u00a0 👩‍🔬","anchor":"end","frame":"group","fontSize":24,"fontWeight":"normal","color":"#1c2138","font":"DejaVu Sans","offset":12,"dx":43},
"encoding":{"x":{"field":"i","type":"quantitative","scale":{"domain":[-0.73,248.7],"nice":false,"zero":false,"padding":0},"axis":{"values":[9,72,133,195],"labels":false,"ticks":false,"domain":false,"title":null,"grid":true,"gridColor":"#cfe5ea","gridDash":[6,4]}}},
"layer":[
{"layer":[
{"data":{"name":"bands"},"mark":{"type":"area","color":"#e9f5f5","opacity":1,"clip":true},"encoding":{"y":{"field":"u","type":"quantitative","title":null,"scale":{"domain":[0.96,5],"nice":false,"zero":false},"axis":{"orient":"right","values":[1,1.5,2,2.5,3,3.5,4,4.5,5],"format":"$.2f","title":null,"ticks":false,"domain":true,"domainColor":"#d5e6ec","labelPadding":10,"gridColor":"#cfe5ea","gridDash":[6,4],"grid":true}},"y2":{"field":"l"}}},
{"data":{"name":"bands"},"mark":{"type":"line","color":"#3cb3a3","strokeWidth":1,"clip":true},"encoding":{"y":{"field":"u","type":"quantitative"}}},
{"data":{"name":"bands"},"mark":{"type":"line","color":"#3cb3a3","strokeWidth":1,"clip":true},"encoding":{"y":{"field":"l","type":"quantitative"}}},
{"data":{"name":"mid"},"mark":{"type":"line","color":"#b3e3da","strokeWidth":1,"clip":true},"encoding":{"y":{"field":"p","type":"quantitative"}}},
{"data":{"name":"candles"},"mark":{"type":"rule","strokeWidth":1,"clip":true},"encoding":{"y":{"field":"l","type":"quantitative"},"y2":{"field":"h"},"color":{"condition":{"test":"datum.c>=datum.o","value":"#35ae7e"},"value":"#ec4a62"}}},
{"data":{"name":"candles"},"mark":{"type":"bar","width":3,"opacity":0.85,"clip":true},"encoding":{"y":{"field":"o","type":"quantitative"},"y2":{"field":"c"},"color":{"condition":{"test":"datum.c>=datum.o","value":"#47b286"},"value":"#e2536c"}}},
{"data":{"name":"smaLong"},"mark":{"type":"line","color":"#6b76c6","strokeWidth":1,"clip":true},"encoding":{"y":{"field":"p","type":"quantitative"}}},
{"data":{"name":"smaShort"},"mark":{"type":"line","color":"#9483cc","strokeWidth":1,"clip":true},"encoding":{"y":{"field":"p","type":"quantitative"}}},
{"data":{"name":"lastPrice"},"mark":{"type":"point","filled":true,"opacity":1,"size":1936,"color":"#8cb89b","shape":"M0.3,-0.5 L1.72,-0.5 Q1.86,-0.5 1.86,-0.36 L1.86,0.36 Q1.86,0.5 1.72,0.5 L0.3,0.5 Q0.16,0.5 0.16,0.36 L0.16,-0.36 Q0.16,-0.5 0.3,-0.5 Z"},"encoding":{"y":{"field":"p","type":"quantitative"}}},
{"data":{"name":"lastPrice"},"mark":{"type":"text","color":"#ffffff","fontSize":13,"dx":22,"align":"center","baseline":"middle"},"encoding":{"y":{"field":"p","type":"quantitative"},"text":{"field":"label"}}}
]},
{"data":{"name":"candles"},"mark":{"type":"bar","width":3,"opacity":0.4,"clip":true},"encoding":{"y":{"field":"v","type":"quantitative","stack":null,"scale":{"domain":[0,424]},"axis":null},"color":{"condition":{"test":"datum.c>=datum.o","value":"#4ab287"},"value":"#ee6a80"}}}
],"resolve":{"scale":{"y":"independent"},"axis":{"y":"independent"}}},
{"width":1120,"height":100,
"encoding":{"x":{"field":"i","type":"quantitative","scale":{"domain":[-0.73,248.7],"nice":false,"zero":false,"padding":0},"axis":{"values":[9,72,133,195],"labelExpr":"datum.value==9?'Oct 2024':datum.value==72?'2025':datum.value==133?'Apr 2025':'Jul 2025'","ticks":false,"domain":true,"domainColor":"#e3eef3","title":null,"grid":true,"gridColor":"#cfe5ea","gridDash":[6,4],"labelPadding":4,"labelFlush":false}}},
"layer":[
{"data":{"name":"rsiLevels"},"mark":{"type":"rule","color":"#c6eefb","strokeWidth":1,"strokeDash":[6,4]},"encoding":{"x":null,"y":{"field":"lvl","type":"quantitative","scale":{"domain":[-6.5,118.5],"nice":false,"zero":false},"axis":{"orient":"right","values":[0,50,100],"title":null,"grid":false,"ticks":true,"tickColor":"#b5d6e3","tickSize":6,"domainColor":"#b5d6e3","labelPadding":4}}}},
{"data":{"name":"rsi"},"mark":{"type":"line","color":"#9c2fb0","strokeWidth":1},"encoding":{"y":{"field":"r","type":"quantitative"}}},
{"data":{"name":"lastRsi"},"mark":{"type":"point","filled":true,"opacity":1,"size":2116,"color":"#8f129b","shape":"M0.3,-0.55 L1.98,-0.55 Q2.12,-0.55 2.12,-0.41 L2.12,0.41 Q2.12,0.55 1.98,0.55 L0.3,0.55 Q0.16,0.55 0.16,0.41 L0.16,-0.41 Q0.16,-0.55 0.3,-0.55 Z"},"encoding":{"y":{"field":"r","type":"quantitative"}}},
{"data":{"name":"lastRsi"},"mark":{"type":"text","color":"#ffffff","fontSize":13,"dx":26,"align":"center","baseline":"middle"},"encoding":{"y":{"field":"r","type":"quantitative"},"text":{"field":"label"}}}
]}
]}
